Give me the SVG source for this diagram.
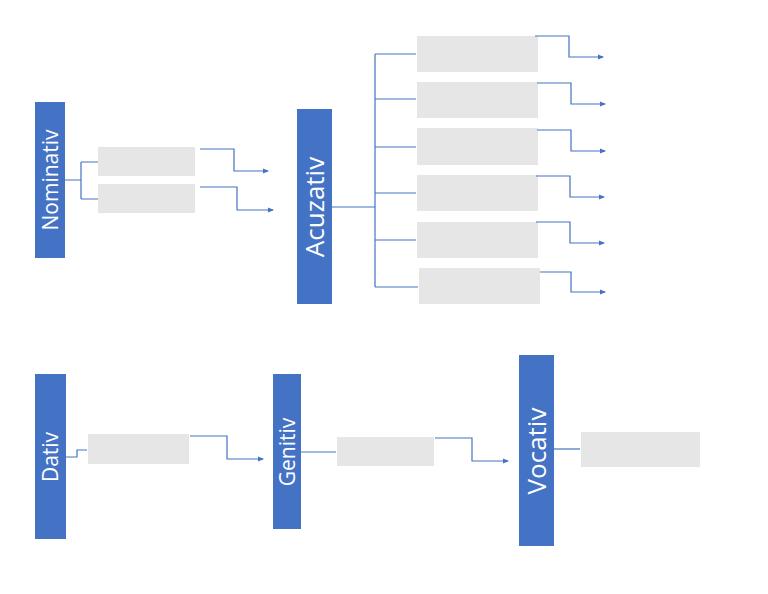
<svg xmlns="http://www.w3.org/2000/svg" width="768" height="594" viewBox="0 0 768 594">
<style>
.case{fill:#4472C4}
.box{fill:#E6E6E6}
.lbl{fill:#fff;font-family:"Open Sans","Noto Sans",sans-serif;text-anchor:middle;dominant-baseline:central}
.ln{fill:none;stroke:#4472C4;stroke-width:1.2}
</style>
<defs>
<marker id="ah" markerWidth="6" markerHeight="6" refX="5" refY="3" orient="auto" markerUnits="userSpaceOnUse">
<path d="M0,0.5 L6,3 L0,5.5 Z" fill="#4472C4"/>
</marker>
</defs>
<rect width="768" height="594" fill="#fff"/>
<g id="nominativ"><rect class="case" x="35" y="102" width="30" height="156"/><text class="lbl" font-size="21" transform="translate(50,180) rotate(-90)">Nominativ</text></g>
<g id="nom-box1"><rect class="box" x="98" y="147" width="97" height="29"/></g>
<g id="nom-box2"><rect class="box" x="98" y="184" width="97" height="29"/></g>
<g id="acuzativ"><rect class="case" x="297" y="109" width="35" height="195"/><text class="lbl" font-size="26" transform="translate(314,207) rotate(-90)">Acuzativ</text></g>
<g id="acu-box1"><rect class="box" x="417" y="36" width="121" height="36"/></g>
<g id="acu-box2"><rect class="box" x="417" y="82" width="121" height="36"/></g>
<g id="acu-box3"><rect class="box" x="417" y="128" width="121" height="37"/></g>
<g id="acu-box4"><rect class="box" x="417" y="175" width="121" height="36"/></g>
<g id="acu-box5"><rect class="box" x="417" y="222" width="121" height="36"/></g>
<g id="acu-box6"><rect class="box" x="419" y="268" width="121" height="36"/></g>
<g id="dativ"><rect class="case" x="35" y="374" width="31" height="165"/><text class="lbl" font-size="21" transform="translate(50,457) rotate(-90)">Dativ</text></g>
<g id="dat-box"><rect class="box" x="88" y="434" width="101" height="30"/></g>
<g id="genitiv"><rect class="case" x="273" y="374" width="28" height="155"/><text class="lbl" font-size="21" transform="translate(287,452) rotate(-90)">Genitiv</text></g>
<g id="gen-box"><rect class="box" x="337" y="437" width="97" height="29"/></g>
<g id="vocativ"><rect class="case" x="519" y="355" width="35" height="191"/><text class="lbl" font-size="26" transform="translate(536,451) rotate(-90)">Vocativ</text></g>
<g id="voc-box"><rect class="box" x="581" y="432" width="119" height="35"/></g>
<g id="connectors">
<path class="ln" d="M65,180 H81 M81,162 V199 M81,162 H98 M81,199 H98"/>
<path class="ln" marker-end="url(#ah)" d="M200,149 H234 V171 H268"/>
<path class="ln" marker-end="url(#ah)" d="M200,187 H237 V210 H273"/>
<path class="ln" d="M332,207 H375 M375,54 V287 M375,54 H416 M375,99 H416 M375,147 H416 M375,193 H416 M375,240 H416 M375,287 H418"/>
<path class="ln" marker-end="url(#ah)" d="M535,36 H569 V57 H603"/>
<path class="ln" marker-end="url(#ah)" d="M537,83 H571 V104 H605"/>
<path class="ln" marker-end="url(#ah)" d="M537,130 H571 V151 H605"/>
<path class="ln" marker-end="url(#ah)" d="M536,176 H570 V197 H604"/>
<path class="ln" marker-end="url(#ah)" d="M536,222 H570 V243 H604"/>
<path class="ln" marker-end="url(#ah)" d="M540,272 H571 V292 H605"/>
<path class="ln" d="M66,457 H77 V450 H87"/>
<path class="ln" marker-end="url(#ah)" d="M190,436 H227 V459 H263"/>
<path class="ln" d="M301,452 H336"/>
<path class="ln" marker-end="url(#ah)" d="M435,438 H472 V461 H508"/>
<path class="ln" d="M554,449 H580"/>
</g>
</svg>
